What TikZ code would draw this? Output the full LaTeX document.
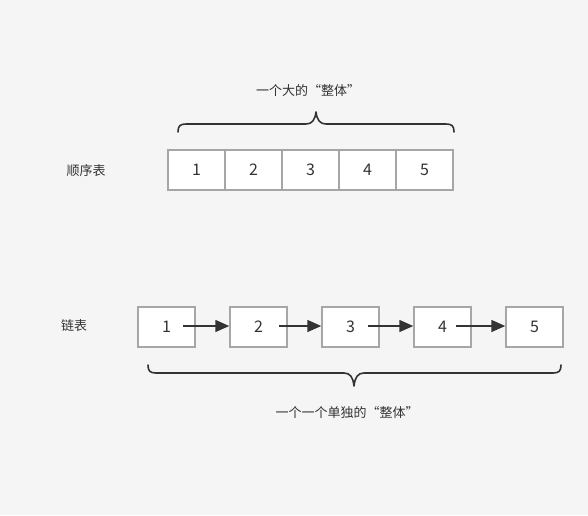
\documentclass[tikz,border=0pt]{standalone}
\usepackage{fontspec}
\setmainfont{Noto Sans CJK SC}
\usetikzlibrary{arrows.meta}
\definecolor{bg}{HTML}{F5F5F5}
\definecolor{boxline}{HTML}{A6A6A6}
\definecolor{ink}{HTML}{333333}
\tikzset{
  cell/.style={draw=boxline, fill=white, line width=1.5pt, minimum width=57pt, minimum height=40pt, inner sep=0pt, font=\fontsize{16pt}{16pt}\selectfont, text=ink},
  lnode/.style={cell},
  lbl/.style={font=\fontsize{13pt}{13pt}\selectfont, text=ink, inner sep=0pt},
  brace/.style={draw=ink, line width=1.6pt, line cap=round, line join=round},
  link/.style={draw=ink, line width=1.6pt, -{Triangle[length=14pt,width=12pt]}}
}
\begin{document}
\begin{tikzpicture}[x=1pt,y=-1pt]
\fill[bg] (0,0) rectangle (588,515);
\useasboundingbox (0,0) rectangle (588,515);
% sequential list
\node[cell] (a1) at (196.5,170) {1};
\node[cell] (a2) at (253.5,170) {2};
\node[cell] (a3) at (310.5,170) {3};
\node[cell] (a4) at (367.5,170) {4};
\node[cell] (a5) at (424.5,170) {5};
\node[lbl] (t1) at (86,171) {顺序表};
\node[lbl] (c1) at (308,91) {一个大的“整体”};
\draw[brace] (178,132) .. controls (178,126) and (180,124) .. (186,124)
  -- (306,124) .. controls (312,124) and (315,120) .. (316,112)
  .. controls (317,120) and (320,124) .. (326,124)
  -- (446,124) .. controls (452,124) and (454,126) .. (454,132);
% linked list
\node[lnode] (b1) at (166.5,327) {1};
\node[lnode] (b2) at (258.5,327) {2};
\node[lnode] (b3) at (350.5,327) {3};
\node[lnode] (b4) at (442.5,327) {4};
\node[lnode] (b5) at (534.5,327) {5};
\coordinate (s1) at (183,326);
\coordinate (s2) at (279,326);
\coordinate (s3) at (368,326);
\coordinate (s4) at (456,326);
\draw[link] (s1) -- (b2.west |- s1);
\draw[link] (s2) -- (b3.west |- s2);
\draw[link] (s3) -- (b4.west |- s3);
\draw[link] (s4) -- (b5.west |- s4);
\node[lbl] (t2) at (74,326) {链表};
\node[lbl] (c2) at (347,412) {一个一个单独的“整体”};
\draw[brace] (148,365) .. controls (148,371) and (150,373) .. (156,373)
  -- (344,373) .. controls (350,373) and (353,377) .. (354,386)
  .. controls (355,377) and (358,373) .. (364,373)
  -- (553,373) .. controls (559,373) and (561,371) .. (561,365);
\end{tikzpicture}
\end{document}
